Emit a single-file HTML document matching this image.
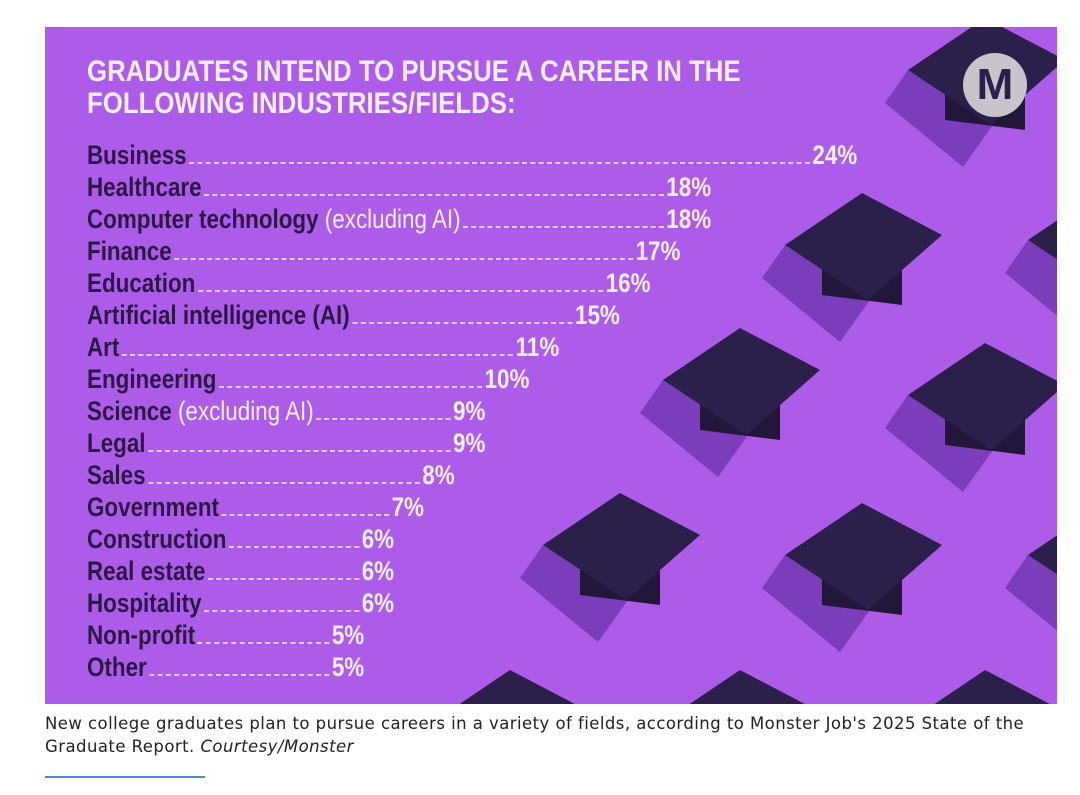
<!DOCTYPE html>
<html><head><meta charset="utf-8"><style>
body{margin:0;width:1080px;height:795px;background:#fff;position:relative;overflow:hidden;font-family:"Liberation Sans",sans-serif}
#panel{position:absolute;left:45px;top:27px;width:1012px;height:677px;background:#ad5ce9;overflow:hidden}
svg{position:absolute;left:0;top:0}
.t{position:absolute;left:42px;color:#f6eefc;font-weight:bold;font-size:30px;white-space:nowrap;transform:scaleX(0.86);transform-origin:left top}
.r{position:absolute;left:42px;height:30px;display:flex;align-items:flex-end;font-size:27px;white-space:nowrap;transform:scaleX(0.83);transform-origin:left top}
.l{color:#2b1846;font-weight:bold;line-height:30px}
.l span{color:#f6eefc;font-weight:normal}
.d{flex:1;border-bottom:2px dashed #e3cdf6;margin:0 3px 6px 3px}
.p{color:#f6eefc;font-weight:bold;line-height:30px}
.cap{position:absolute;left:45px;font-family:"DejaVu Sans",sans-serif;font-size:16.5px;letter-spacing:0.45px;color:#222;white-space:nowrap}
</style></head><body>
<div id="panel">
<svg width="1012" height="677">
<defs>
<g id="c">
<polygon points="-77,-5 -100,28 -22,92 8,50" fill="#7b3dbb"/>
<polygon points="-40,10 40,10 40,55 -40,45" fill="#22163a"/>
<polygon points="0,-57 80,-15 6,50 -77,-5" fill="#2d1f4b"/>
</g>
</defs>
<use href="#c" x="940" y="48"/>
<use href="#c" x="817" y="223"/>
<use href="#c" x="1060" y="218"/>
<use href="#c" x="695" y="358"/>
<use href="#c" x="940" y="373"/>
<use href="#c" x="575" y="523"/>
<use href="#c" x="817" y="533"/>
<use href="#c" x="1060" y="533"/>
<use href="#c" x="465" y="700"/>
<use href="#c" x="695" y="700"/>
<use href="#c" x="940" y="700"/>
<circle cx="950" cy="58" r="32" fill="#c9c3cc"/>
<text x="950" y="72" text-anchor="middle" font-family="Liberation Sans" font-weight="bold" font-size="44" fill="#2d1f4b">M</text>
</svg>
<div class="t" style="top:28px">GRADUATES INTEND TO PURSUE A CAREER IN THE</div>
<div class="t" style="top:60px">FOLLOWING INDUSTRIES/FIELDS:</div>

<div class="r" style="top:113px;width:928px"><div class="l">Business</div><div class="d"></div><div class="p">24%</div></div>
<div class="r" style="top:145px;width:752px"><div class="l">Healthcare</div><div class="d"></div><div class="p">18%</div></div>
<div class="r" style="top:177px;width:752px"><div class="l">Computer technology <span>(excluding AI)</span></div><div class="d"></div><div class="p">18%</div></div>
<div class="r" style="top:209px;width:715px"><div class="l">Finance</div><div class="d"></div><div class="p">17%</div></div>
<div class="r" style="top:241px;width:679px"><div class="l">Education</div><div class="d"></div><div class="p">16%</div></div>
<div class="r" style="top:273px;width:642px"><div class="l">Artificial intelligence (AI)</div><div class="d"></div><div class="p">15%</div></div>
<div class="r" style="top:305px;width:569px"><div class="l">Art</div><div class="d"></div><div class="p">11%</div></div>
<div class="r" style="top:337px;width:533px"><div class="l">Engineering</div><div class="d"></div><div class="p">10%</div></div>
<div class="r" style="top:369px;width:480px"><div class="l">Science <span>(excluding AI)</span></div><div class="d"></div><div class="p">9%</div></div>
<div class="r" style="top:401px;width:480px"><div class="l">Legal</div><div class="d"></div><div class="p">9%</div></div>
<div class="r" style="top:433px;width:443px"><div class="l">Sales</div><div class="d"></div><div class="p">8%</div></div>
<div class="r" style="top:465px;width:406px"><div class="l">Government</div><div class="d"></div><div class="p">7%</div></div>
<div class="r" style="top:497px;width:370px"><div class="l">Construction</div><div class="d"></div><div class="p">6%</div></div>
<div class="r" style="top:529px;width:370px"><div class="l">Real estate</div><div class="d"></div><div class="p">6%</div></div>
<div class="r" style="top:561px;width:370px"><div class="l">Hospitality</div><div class="d"></div><div class="p">6%</div></div>
<div class="r" style="top:593px;width:334px"><div class="l">Non-profit</div><div class="d"></div><div class="p">5%</div></div>
<div class="r" style="top:625px;width:334px"><div class="l">Other</div><div class="d"></div><div class="p">5%</div></div>
</div>
<div class="cap" style="top:714px">New college graduates plan to pursue careers in a variety of fields, according to Monster Job's 2025 State of the</div>
<div class="cap" style="top:737px">Graduate Report. <i>Courtesy/Monster</i></div>
<div style="position:absolute;left:45px;top:776px;width:160px;height:2px;background:#4a86e0"></div>
</body></html>
